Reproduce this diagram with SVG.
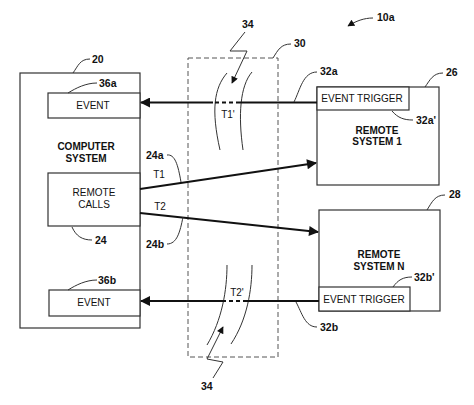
<svg xmlns="http://www.w3.org/2000/svg" width="474" height="405" viewBox="0 0 474 405">
<style>
.box{fill:#fff;stroke:#333;stroke-width:1.2}
.t{font-family:"Liberation Sans",Arial,sans-serif;font-size:10px;fill:#111;text-anchor:middle}
.b{font-weight:bold}
.lbl{font-family:"Liberation Sans",Arial,sans-serif;font-size:10.5px;font-weight:bold;fill:#111}
.ld{fill:none;stroke:#333;stroke-width:1}
.ar{fill:none;stroke:#111;stroke-width:2}
.dash{fill:none;stroke:#555;stroke-width:1;stroke-dasharray:5,3}
</style>
<defs>
<marker id="ah" viewBox="0 0 10 10" refX="9" refY="5" markerWidth="6" markerHeight="5" markerUnits="strokeWidth" orient="auto"><path d="M0,0L10,5L0,10z" fill="#111"/></marker>
<marker id="ahs" viewBox="0 0 10 10" refX="9" refY="5" markerWidth="9" markerHeight="7" markerUnits="strokeWidth" orient="auto"><path d="M0,0L10,5L0,10z" fill="#111"/></marker>
</defs>
<g id="network30">
<rect x="188" y="58" width="90" height="299" class="dash"/>
<path class="ld" d="M227,73 C214,88 211,110 220,150"/>
<path class="ld" d="M252,72 C240,86 238,115 243,150"/>
<path class="ld" d="M227,265 C227,290 222,320 207,345"/>
<path class="ld" d="M252,265 C252,290 247,320 231,344"/>
<text class="t" x="228" y="118">T1'</text>
<text class="t" x="237" y="296">T2'</text>
</g>
<g id="computer20">
<rect x="20" y="73" width="120" height="255" class="box"/>
<text class="t b" x="86" y="150">COMPUTER</text>
<text class="t b" x="86" y="162">SYSTEM</text>
</g>
<g id="event36a">
<rect x="48" y="93" width="92" height="25" class="box"/>
<text class="t" x="93" y="109">EVENT</text>
</g>
<g id="calls24">
<rect x="48" y="173" width="92" height="53" class="box"/>
<text class="t" x="94" y="196">REMOTE</text>
<text class="t" x="94" y="208">CALLS</text>
</g>
<g id="event36b">
<rect x="49" y="290" width="91" height="26" class="box"/>
<text class="t" x="94" y="306">EVENT</text>
</g>
<g id="remote26">
<rect x="317" y="87" width="122" height="98" class="box"/>
<text class="t b" x="377" y="134">REMOTE</text>
<text class="t b" x="377" y="145">SYSTEM 1</text>
</g>
<g id="trigger32a">
<rect x="317" y="87" width="92" height="23" class="box"/>
<text class="t" x="362" y="102">EVENT TRIGGER</text>
</g>
<g id="remote28">
<rect x="319" y="210" width="121" height="101" class="box"/>
<text class="t b" x="379" y="258">REMOTE</text>
<text class="t b" x="379" y="270">SYSTEM N</text>
</g>
<g id="trigger32b">
<rect x="319" y="287" width="91" height="24" class="box"/>
<text class="t" x="364" y="303">EVENT TRIGGER</text>
</g>
<g id="connectors">
<path class="ar" d="M317,102.5 H240"/>
<path class="ar" d="M240,102.5 H213" stroke-dasharray="4,3"/>
<path class="ar" d="M213,102.5 H141" marker-end="url(#ah)"/>
<path class="ar" d="M319,301 H247"/>
<path class="ar" d="M247,301 H223" stroke-dasharray="4,3"/>
<path class="ar" d="M223,301 H141" marker-end="url(#ah)"/>
<path class="ar" d="M140,189 L316,163" marker-end="url(#ah)"/>
<path class="ar" d="M140,213 L318,232" marker-end="url(#ah)"/>
<path class="ld" d="M245,32 L230,51 L247,51 L232,83" marker-end="url(#ahs)"/>
<path class="ld" d="M213,378 L223,362 L207,359 L223,327" marker-end="url(#ahs)"/>
<path class="ld" d="M373,18 C364,18 356,21 348,26" marker-end="url(#ahs)"/>
</g>
<g id="labels">
<text class="lbl" x="377" y="21">10a</text>
<text class="lbl" x="242" y="28">34</text>
<text class="lbl" x="201" y="390">34</text>
<text class="lbl" x="92" y="63">20</text>
<path class="ld" d="M73,73 C78,66 80,59 90,59"/>
<text class="lbl" x="99" y="87">36a</text>
<path class="ld" d="M68,93 C76,88 86,83 97,83"/>
<text class="lbl" x="98" y="284">36b</text>
<path class="ld" d="M68,290 C76,285 86,280 97,280"/>
<text class="lbl" x="95" y="244">24</text>
<path class="ld" d="M72,227 C76,236 82,240 92,240"/>
<text class="lbl" x="146" y="159">24a</text>
<path class="ld" d="M167,155 C175,154 178,165 181,182"/>
<text class="lbl" x="146" y="248">24b</text>
<path class="ld" d="M167,244 C177,244 180,232 183,217"/>
<text class="t" x="159" y="178">T1</text>
<text class="t" x="160" y="210">T2</text>
<text class="lbl" x="294" y="47">30</text>
<path class="ld" d="M273,58 C278,50 281,44 291,44"/>
<text class="lbl" x="320" y="75">32a</text>
<path class="ld" d="M294,102 C300,90 303,72 317,72"/>
<text class="lbl" x="416" y="124">32a'</text>
<path class="ld" d="M392,111 C398,118 404,120 413,120"/>
<text class="lbl" x="446" y="76">26</text>
<path class="ld" d="M425,87 C430,80 433,73 443,73"/>
<text class="lbl" x="449" y="198">28</text>
<path class="ld" d="M427,210 C432,202 435,195 445,195"/>
<text class="lbl" x="414" y="281">32b'</text>
<path class="ld" d="M393,287 C398,280 403,277 412,277"/>
<text class="lbl" x="320" y="331">32b</text>
<path class="ld" d="M296,302 C302,313 305,327 317,327"/>
</g>
</svg>
